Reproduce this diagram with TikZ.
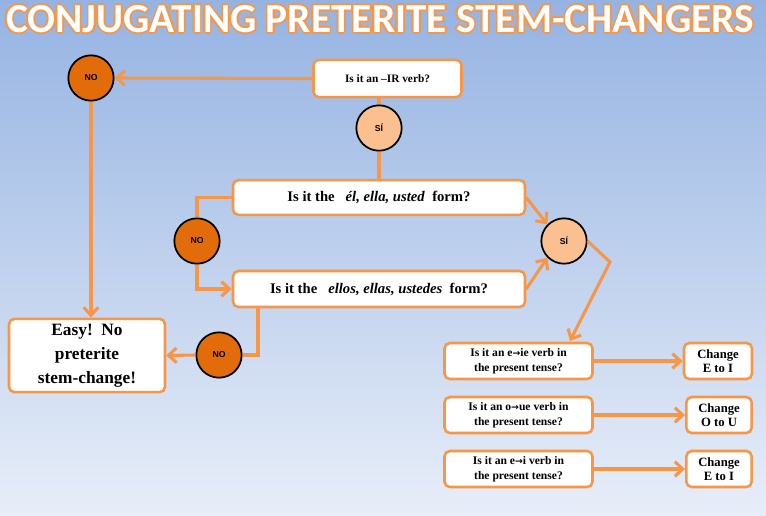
\documentclass[tikz,border=0pt]{standalone}
\usepackage{fontspec}
\usetikzlibrary{arrows.meta}
\setmainfont{Liberation Serif}
\newfontfamily\titlefont{Carlito}
\newfontfamily\labfont{Liberation Sans}
\newfontfamily\symfont{DejaVu Sans}
\definecolor{org}{HTML}{F79646}
\definecolor{dark}{HTML}{E36C0A}
\definecolor{light}{HTML}{FAC090}
\newcommand{\rarr}{{\symfont\fontsize{7}{8}\selectfont →}}
\begin{document}
\begin{tikzpicture}[x=0.75pt,y=-0.75pt,
 box/.style={draw=org,line width=1.9pt,fill=white,rounded corners=4pt,font=\bfseries,align=center,inner sep=0pt},
 nocirc/.style={circle,draw=black,line width=1.3pt,fill=dark,minimum size=34pt,inner sep=0pt,font=\labfont\bfseries\fontsize{6.5}{7}\selectfont},
 sicirc/.style={nocirc,fill=light},
 con/.style={draw=org,line width=2.3pt},
 arr/.style={con,-{Straight Barb[length=6pt,width=11pt]}},
 ttl/.style={font=\titlefont\bfseries\fontsize{31}{32}\selectfont}]
\shade[top color={rgb,255:red,149;green,179;blue,226},bottom color={rgb,255:red,232;green,238;blue,248}] (0,0) rectangle (766,515);
\path[use as bounding box] (0,0) rectangle (766,515);
% title
\foreach \dx/\dy in {-1.3/0,1.3/0,0/-1.3,0/1.3,-1/-1,1/1,-1/1,1/-1}
 \node[ttl,text=org] at ([xshift=\dx pt,yshift=\dy pt]380,19) {CONJUGATING PRETERITE STEM-CHANGERS};
\node[ttl,text=white] (title) at (380,19) {CONJUGATING PRETERITE STEM-CHANGERS};
% nodes
\node[box,minimum width=111pt,minimum height=28pt,font=\bfseries\fontsize{8.5}{10}\selectfont] (ir) at (387.5,78.5) {Is it an --IR verb?};
\node[nocirc] (no1) at (91,78) {NO};
\node[sicirc] (si1) at (379,128) {SÍ};
\node[box,minimum width=219pt,minimum height=26pt,font=\bfseries\fontsize{11}{13}\selectfont] (el) at (379,197.5) {Is it the \enspace\textit{él, ella, usted}\enspace form?};
\node[nocirc] (no2) at (197,241) {NO};
\node[sicirc] (si2) at (564,241) {SÍ};
\node[box,minimum width=219pt,minimum height=27pt,font=\bfseries\fontsize{11}{13}\selectfont] (ellos) at (379,289) {Is it the \enspace\textit{ellos, ellas, ustedes}\enspace form?};
\node[nocirc] (no3) at (219,355) {NO};
\node[box,minimum width=117pt,minimum height=55pt,font=\bfseries\fontsize{13}{18}\selectfont] (easy) at (87,355.5) {Easy!\, No\\preterite\\stem-change!};
\foreach \i/\y/\t in {1/361/{Is it an e\rarr ie verb in},2/415/{Is it an o\rarr ue verb in},3/469/{Is it an e\rarr i verb in}}{
 \node[box,minimum width=111pt,minimum height=27pt,font=\bfseries\fontsize{8.7}{11}\selectfont] (q\i) at (518.5,\y) {\t\\the present tense?};
}
\node[box,minimum width=51pt,minimum height=27pt,font=\bfseries\fontsize{9.5}{11}\selectfont] (c1) at (718,361) {Change\\E to I};
\node[box,minimum width=49pt,minimum height=27pt,font=\bfseries\fontsize{9.5}{11}\selectfont] (c2) at (719,415) {Change\\O to U};
\node[box,minimum width=49pt,minimum height=27pt,font=\bfseries\fontsize{9.5}{11}\selectfont] (c3) at (719,469) {Change\\E to I};
% connectors
\draw[arr] (ir.west) -- (no1.east);
\draw[arr] (no1.south) -- (easy.north -| no1.south);
\draw[con] (ir.south -| si1) -- (si1.north);
\draw[con] (si1.south) -- (el.north -| si1);
\draw[con] (el.west) -| (no2.north);
\draw[arr] (no2.south) |- (ellos.west);
\draw[arr] (el.east) -- (si2.north west);
\draw[arr] (ellos.east) -- (si2.south west);
\coordinate (k1) at (258,355);
\draw[con] (ellos.south -| k1) -- (k1) -- (no3.east);
\draw[arr] (no3.west) -- (easy.east);
\coordinate (k2) at (610,262);
\coordinate (k3) at (570,341);
\draw[arr] (si2.east) -- (k2) -- (k3);
\foreach \i in {1,2,3} \draw[arr] (q\i.east) -- (c\i.west);
\end{tikzpicture}
\end{document}
